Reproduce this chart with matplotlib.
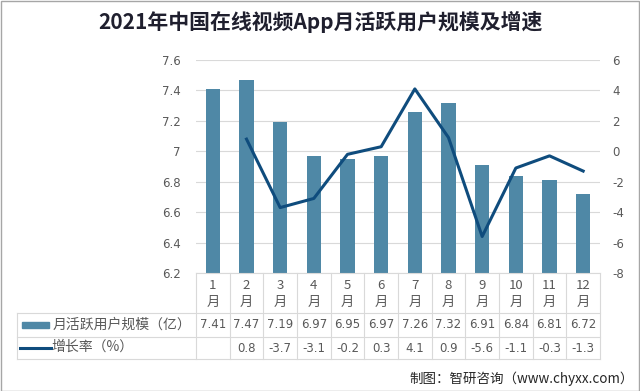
import matplotlib
matplotlib.use("Agg")
import matplotlib.pyplot as plt
import matplotlib.transforms as mtransforms
from matplotlib.patches import Rectangle
from matplotlib.lines import Line2D
import numpy as np

plt.rcParams['font.family'] = ['Noto Sans CJK SC', 'DejaVu Sans']
num_font = ['DejaVu Sans', 'Noto Sans CJK SC']

months = ["1\n月", "2\n月", "3\n月", "4\n月", "5\n月", "6\n月", "7\n月", "8\n月", "9\n月", "10\n月", "11\n月", "12\n月"]
mau = [7.41, 7.47, 7.19, 6.97, 6.95, 6.97, 7.26, 7.32, 6.91, 6.84, 6.81, 6.72]
growth = [np.nan, 0.8, -3.7, -3.1, -0.2, 0.3, 4.1, 0.9, -5.6, -1.1, -0.3, -1.3]
growth_labels = ["", "0.8", "-3.7", "-3.1", "-0.2", "0.3", "4.1", "0.9", "-5.6", "-1.1", "-0.3", "-1.3"]
left_ticks = [6.2, 6.4, 6.6, 6.8, 7.0, 7.2, 7.4, 7.6]
left_tick_labels = ["6.2", "6.4", "6.6", "6.8", "7", "7.2", "7.4", "7.6"]
right_ticks = [-8, -6, -4, -2, 0, 2, 4, 6]
title = "2021年中国在线视频App月活跃用户规模及增速"
series1_name = "月活跃用户规模（亿）"
series2_name = "增长率（%）"
source = "制图：智研咨询（www.chyxx.com）"

W, H = 640, 391
bar_color = "#4F88A6"
line_color = "#0F4C7D"
grid_color = "#D9D9D9"
text_color = "#595959"

fig = plt.figure(figsize=(W / 100, H / 100), dpi=100)
fig.patch.set_facecolor("white")

def fy(py):
    return 1 - py / H

ax_l, ax_r, ax_t, ax_b = 196, 600, 60, 273
ax = fig.add_axes([ax_l / W, fy(ax_b), (ax_r - ax_l) / W, (ax_b - ax_t) / H])
x = np.arange(1, 13)
ax.bar(x, mau, width=0.43, color=bar_color, zorder=2)
ax.set_xlim(0.5, 12.5)
ax.set_ylim(6.2, 7.6)
ax.set_yticks(left_ticks)
ax.set_yticklabels(left_tick_labels, family=num_font)
ax.set_xticks([])
ax.grid(axis="y", color=grid_color, linewidth=0.8, zorder=0)
for s in ax.spines.values():
    s.set_visible(False)
ax.tick_params(axis="y", length=0, pad=11, labelsize=8.5, labelcolor=text_color)

ax2 = ax.twinx()
ax2.plot(x, growth, color=line_color, linewidth=2.2, zorder=3)
ax2.set_ylim(-8, 6)
ax2.set_yticks(right_ticks)
ax2.set_yticklabels([str(t) for t in right_ticks], family=num_font)
ax2.tick_params(axis="y", length=0, pad=9, labelsize=8.5, labelcolor=text_color)
for s in ax2.spines.values():
    s.set_visible(False)

# Title
fig.text(0.5, fy(22), title, ha="center", va="center", fontsize=15, fontweight="bold", color="#1F1F2E")

# Data table
trans = mtransforms.blended_transform_factory(ax.transData, fig.transFigure)
row_lines = [313, 337, 359]
table_left = 17
for ry in row_lines:
    fig.add_artist(Line2D([table_left / W, ax_r / W], [fy(ry), fy(ry)], color=grid_color, linewidth=0.8, transform=fig.transFigure))
fig.add_artist(Line2D([ax_l / W, ax_r / W], [fy(ax_b), fy(ax_b)], color=grid_color, linewidth=0.8, transform=fig.transFigure))
for b in np.arange(0.5, 13.0, 1.0):
    fig.add_artist(Line2D([b, b], [fy(ax_b), fy(359)], color=grid_color, linewidth=0.8, transform=trans))
fig.add_artist(Line2D([table_left / W, table_left / W], [fy(313), fy(359)], color=grid_color, linewidth=0.8, transform=fig.transFigure))

for i in range(12):
    fig.text(x[i], fy(294), months[i], transform=trans, ha="center", va="center", fontsize=9.5, color=text_color, linespacing=1.35)
    fig.text(x[i], fy(325), f"{mau[i]:.2f}", transform=trans, ha="center", va="center", fontsize=8.5, color=text_color, family=num_font)
    fig.text(x[i], fy(348), growth_labels[i], transform=trans, ha="center", va="center", fontsize=8.5, color=text_color, family=num_font)

# Legend keys
fig.add_artist(Rectangle((22 / W, fy(328)), 27 / W, 6 / H, color=bar_color, transform=fig.transFigure))
fig.text(53 / W, fy(325), series1_name, ha="left", va="center", fontsize=10, color=text_color)
fig.add_artist(Line2D([20 / W, 51 / W], [fy(348), fy(348)], color=line_color, linewidth=2.2, transform=fig.transFigure))
fig.text(51 / W, fy(347), series2_name, ha="left", va="center", fontsize=10, color=text_color)

# Source
fig.text(634 / W, fy(379), source, ha="right", va="center", fontsize=9.7, color="#262626")

# Outer border
fig.add_artist(Rectangle((0.5 / W, 0.5 / H), (W - 1.5) / W, (H - 1.5) / H, fill=False, edgecolor="#A6A6A6", linewidth=1.0, transform=fig.transFigure))

fig.savefig("out.png", dpi=100, facecolor="white")
